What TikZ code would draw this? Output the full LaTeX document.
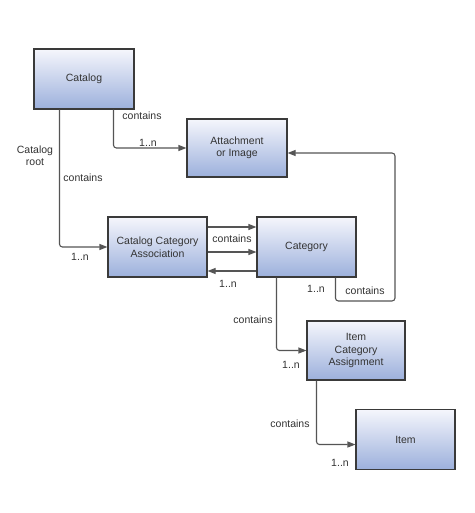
\documentclass[tikz,border=0pt]{standalone}
\usepackage{fontspec}
\setmainfont{Liberation Sans}
\usetikzlibrary{arrows.meta,calc}
\definecolor{boxtop}{HTML}{F5F6FC}
\definecolor{boxbot}{HTML}{9CB0DC}
\definecolor{boxline}{HTML}{3A3A3A}
\definecolor{lnk}{HTML}{555555}
\definecolor{txt}{HTML}{333333}
\tikzset{
  entity/.style={draw=boxline, line width=1.1pt, top color=boxtop, bottom color=boxbot,
    rectangle, inner sep=2pt, align=center, text=txt, font=\fontsize{10.5}{12.5}\selectfont},
  lab/.style={text=txt, font=\fontsize{10.5}{12.5}\selectfont, inner sep=0pt, align=center},
  arr/.style={draw=lnk, line width=1.1pt, rounded corners=3pt, -{Triangle[length=8pt,width=6pt]}},
  lnkline/.style={draw=lnk, line width=1.1pt, rounded corners=3pt}
}
\begin{document}
\begin{tikzpicture}[x=1pt,y=-1pt]
\useasboundingbox (0,0) rectangle (474,513);
\fill[white] (0,0) rectangle (474,513);
% boxes
\node[entity, minimum width=100pt, minimum height=60pt] (cat) at (84,79) {Catalog};
\node[entity, minimum width=100pt, minimum height=58pt] (att) at (237,148) {Attachment\\or Image};
\node[entity, minimum width=99pt, minimum height=60pt] (cca) at (157.5,247) {Catalog Category\\Association};
\node[entity, minimum width=99pt, minimum height=60pt] (ctg) at (306.5,247) {Category};
\node[entity, minimum width=98pt, minimum height=59pt] (ica) at (356,350.5) {Item\\Category\\Assignment};
\node[entity, minimum width=99pt, minimum height=60pt] (itm) at (405.5,439.5) {Item};
% helper coordinates
\coordinate (c1) at ($(cat.south west)+(26,0)$);
\coordinate (c2) at ($(cat.south west)+(80,0)$);
\coordinate (g1) at ($(ctg.south west)+(79,0)$);
\coordinate (g2) at ($(ctg.south west)+(20,0)$);
\coordinate (i1) at ($(ica.south west)+(10,0)$);
\coordinate (r1) at (395,301);
% connectors
\draw[arr] (c1) |- (cca.west);
\draw[arr] (c2) |- (att.west);
\draw[arr] ([yshift=20pt]cca.east) -- ([yshift=20pt]ctg.west);
\draw[arr] ([yshift=-5pt]cca.east) -- ([yshift=-5pt]ctg.west);
\draw[arr] ([yshift=-24pt]ctg.west) -- ([yshift=-24pt]cca.east);
\draw[arr] (g1) |- (r1) |- ([yshift=-5pt]att.east);
\draw[arr] (g2) |- (ica.west);
\draw[arr] (i1) |- ([yshift=-5pt]itm.west);
% labels
\node[lab] (l1) at (142,116) {contains};
\node[lab] (l2) at (148,143) {1..n};
\node[lab] (l3) at (35,155.5) {Catalog\\root};
\node[lab] (l4) at (83,178) {contains};
\node[lab] (l5) at (80,257) {1..n};
\node[lab] (l6) at (232,239) {contains};
\node[lab] (l7) at (228,284) {1..n};
\node[lab] (l8) at (316,289) {1..n};
\node[lab] (l9) at (365,291) {contains};
\node[lab] (l10) at (253,320) {contains};
\node[lab] (l11) at (291,365) {1..n};
\node[lab] (l12) at (290,424) {contains};
\node[lab] (l13) at (340,463) {1..n};
\end{tikzpicture}
\end{document}
